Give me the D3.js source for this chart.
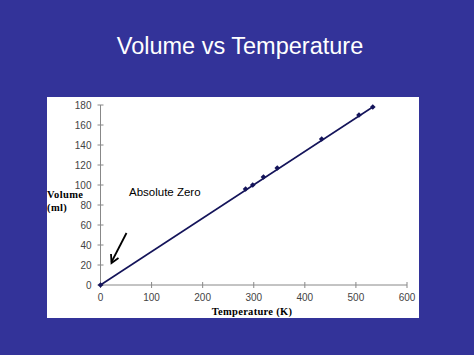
<!DOCTYPE html>
<html><head><meta charset="utf-8">
<script src="https://cdn.jsdelivr.net/npm/d3@7/dist/d3.min.js"></script>
<style>body{margin:0;background:#333399;}svg{display:block;}</style>
</head><body>
<svg id="c" width="474" height="355"></svg>
<script>
const temps = [0, 284, 298, 319, 346, 433, 506, 533];
const volumes = [0, 96, 100, 108, 117, 146, 170, 178];
const xTicks = [0, 100, 200, 300, 400, 500, 600];
const yTicks = [0, 20, 40, 60, 80, 100, 120, 140, 160, 180];
const title = "Volume vs Temperature";
const xLabel = "Temperature (K)";
const yLabel = ["Volume", "(ml)"];
const annotation = "Absolute Zero";

const svg = d3.select("#c");
svg.append("rect").attr("width",474).attr("height",355).attr("fill","#333399");
svg.append("text").attr("x",240).attr("y",53.5).attr("text-anchor","middle")
  .attr("font-family","Liberation Sans, Arial, sans-serif").attr("font-size",23.5).attr("fill","#fff").text(title);
svg.append("rect").attr("x",47).attr("y",97).attr("width",372).attr("height",221).attr("fill","#fff");

const x = d3.scaleLinear().domain([0,600]).range([100.5,407]);
const y = d3.scaleLinear().domain([0,180]).range([285,105]);

const axisColor = "#888";
const gx = svg.append("g").attr("transform","translate(0,285)");
gx.append("line").attr("x1",x(0)).attr("x2",x(600)).attr("stroke",axisColor);
gx.selectAll(".t").data(xTicks).enter().append("line")
  .attr("x1",d=>x(d)).attr("x2",d=>x(d)).attr("y1",-3).attr("y2",3).attr("stroke",axisColor);
gx.selectAll(".l").data(xTicks).enter().append("text")
  .attr("x",d=>x(d)).attr("y",16).attr("text-anchor","middle")
  .attr("font-family","Liberation Sans, Arial, sans-serif").attr("font-size",10).attr("fill","#444").text(d=>d);

const gy = svg.append("g").attr("transform","translate(100.5,0)");
gy.append("line").attr("y1",y(0)).attr("y2",y(180)).attr("stroke",axisColor);
gy.selectAll(".t").data(yTicks).enter().append("line")
  .attr("y1",d=>y(d)).attr("y2",d=>y(d)).attr("x1",-3).attr("x2",3).attr("stroke",axisColor);
gy.selectAll(".l").data(yTicks).enter().append("text")
  .attr("x",-9).attr("y",d=>y(d)+3.5).attr("text-anchor","end")
  .attr("font-family","Liberation Sans, Arial, sans-serif").attr("font-size",10).attr("fill","#444").text(d=>d);

svg.append("line").attr("x1",x(temps[0])).attr("y1",y(volumes[0]))
  .attr("x2",x(temps[temps.length-1])).attr("y2",y(volumes[volumes.length-1]))
  .attr("stroke","#14145a").attr("stroke-width",1.6);
svg.selectAll(".p").data(temps).enter().append("rect")
  .attr("x",(d)=>x(d)-2).attr("y",(d,i)=>y(volumes[i])-2).attr("width",4).attr("height",4)
  .attr("fill","#14145a").attr("transform",(d,i)=>`rotate(45,${x(d)},${y(volumes[i])})`);

svg.append("text").attr("x",129).attr("y",196).attr("font-family","Liberation Sans, Arial, sans-serif")
  .attr("font-size",11.5).attr("fill","#000").text(annotation);

svg.append("text").attr("x",47).attr("y",198).attr("font-family","Liberation Serif, Times New Roman, serif")
  .attr("font-weight","bold").attr("font-size",10.5).attr("letter-spacing",0.4).attr("fill","#000").text(yLabel[0]);
svg.append("text").attr("x",47).attr("y",211).attr("font-family","Liberation Serif, Times New Roman, serif")
  .attr("font-weight","bold").attr("font-size",10.5).attr("letter-spacing",0.4).attr("fill","#000").text(yLabel[1]);
svg.append("text").attr("x",252).attr("y",315).attr("text-anchor","middle").attr("font-family","Liberation Serif, Times New Roman, serif")
  .attr("font-weight","bold").attr("font-size",10.5).attr("letter-spacing",0.3).attr("fill","#000").text(xLabel);

// arrow
svg.append("line").attr("x1",126.5).attr("y1",233).attr("x2",111.5).attr("y2",262).attr("stroke","#000").attr("stroke-width",1.8);
svg.append("path").attr("d","M111,254 L111.5,263 L118.5,258").attr("fill","none").attr("stroke","#000").attr("stroke-width",1.8);
</script>
</body></html>
